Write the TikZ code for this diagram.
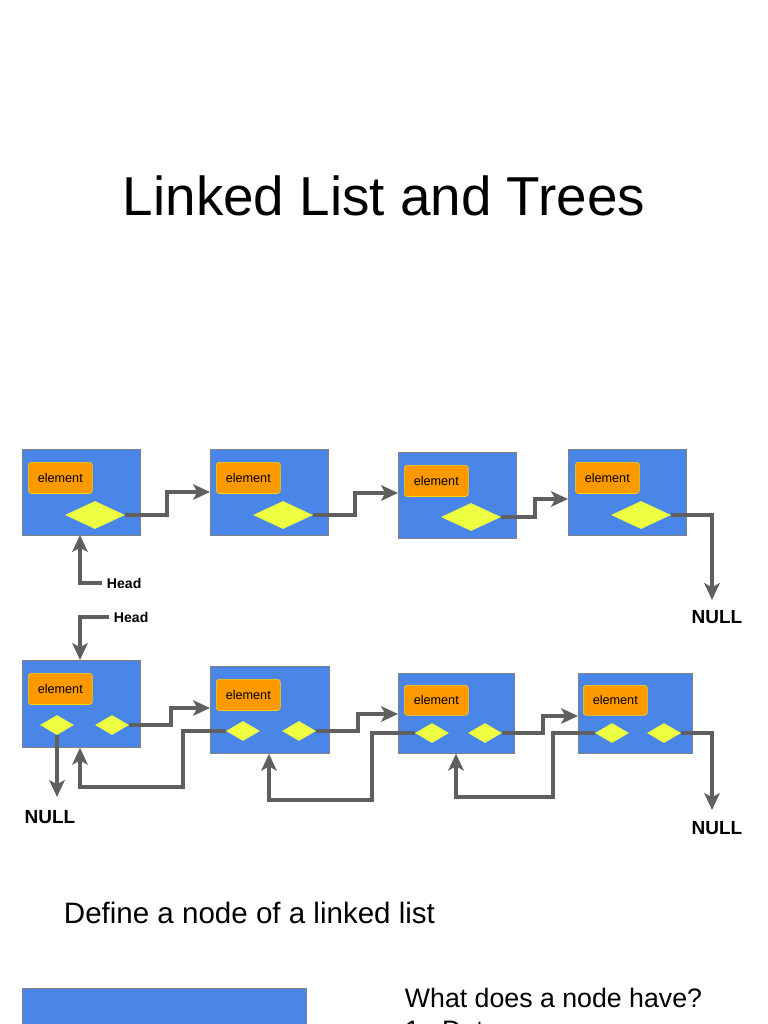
\documentclass[tikz,border=0pt]{standalone}
\usepackage{fontspec}
\setmainfont{Liberation Sans}
\usetikzlibrary{arrows.meta,shapes.geometric,positioning}
\definecolor{boxblue}{RGB}{74,134,232}
\definecolor{elorange}{RGB}{255,153,0}
\definecolor{ptryellow}{RGB}{238,255,65}
\definecolor{linkgray}{RGB}{95,95,95}
\tikzset{
  cell/.style={draw=gray, fill=boxblue, anchor=north west, inner sep=0pt},
  elem/.style={draw=yellow!70!orange, fill=elorange, rounded corners=2pt, anchor=north west, inner sep=0pt,
    minimum width=1.6cm, minimum height=0.78cm, font=\fontsize{9}{10}\selectfont},
  bigptr/.style={diamond, fill=ptryellow, inner sep=0pt, minimum width=1.5cm, minimum height=0.7cm},
  smallptr/.style={diamond, fill=ptryellow, inner sep=0pt, minimum width=0.85cm, minimum height=0.5cm},
  link/.style={draw=linkgray, line width=2.8pt, -{Stealth[length=12pt,width=11pt,inset=3pt]}},
  lbl/.style={font=\bfseries\fontsize{10}{12}\selectfont},
  nulllbl/.style={font=\bfseries\fontsize{13.5}{15}\selectfont}
}
\begin{document}
\begin{tikzpicture}[x=0.025cm,y=-0.025cm]
  \useasboundingbox (0,0) rectangle (768,1024);
  \clip (0,0) rectangle (768,1024);

  % Title
  \node (title) at (384,196) {\fontsize{39}{44}\selectfont Linked List and Trees};

  % Singly linked list
  \node[cell, minimum width=2.95cm, minimum height=2.15cm] (a1) at (22,449) {};
  \node[cell, minimum width=2.95cm, minimum height=2.15cm] (a2) at (210,449) {};
  \node[cell, minimum width=2.95cm, minimum height=2.15cm] (a3) at (398,452) {};
  \node[cell, minimum width=2.95cm, minimum height=2.15cm] (a4) at (568,449) {};
  \node[elem] (ae1) at (28,462) {element};
  \node[elem] (ae2) at (216,462) {element};
  \node[elem] (ae3) at (404,465) {element};
  \node[elem] (ae4) at (575,462) {element};
  \node[bigptr] (ap1) at (95,515) {};
  \node[bigptr] (ap2) at (283,515) {};
  \node[bigptr] (ap3) at (471,517) {};
  \node[bigptr] (ap4) at (641,515) {};
  \coordinate (anull) at (712,600);
  \node[nulllbl] (anulltxt) at (717,617) {NULL};
  \node[lbl, anchor=west] (head1) at (102,583) {Head};

  \draw[link] (ap1.east) -- (167,515) -- (167,492) -- (a2.west |- 0,492);
  \draw[link] (ap2.east) -- (355,515) -- (355,493) -- (a3.west |- 0,493);
  \draw[link] (ap3.east) -- (535,517) -- (535,499) -- (a4.west |- 0,499);
  \draw[link] (ap4.east) -- (712,515) -- (anull);
  \draw[link] (head1.west) -- (80,583) -- (80,535);

  % Doubly linked list
  \node[lbl, anchor=west] (head2) at (109,617) {Head};
  \node[cell, minimum width=2.95cm, minimum height=2.18cm] (b1) at (22,660) {};
  \node[cell, minimum width=2.98cm, minimum height=2.18cm] (b2) at (210,666) {};
  \node[cell, minimum width=2.9cm, minimum height=2cm] (b3) at (398,673) {};
  \node[cell, minimum width=2.85cm, minimum height=2cm] (b4) at (578,673) {};
  \node[elem] (be1) at (28,673) {element};
  \node[elem] (be2) at (216,679) {element};
  \node[elem, minimum height=0.75cm] (be3) at (404,685) {element};
  \node[elem, minimum height=0.75cm] (be4) at (583,685) {element};
  \node[smallptr] (bl1) at (57,725) {};
  \node[smallptr] (br1) at (112,725) {};
  \node[smallptr] (bl2) at (243,731) {};
  \node[smallptr] (br2) at (299,731) {};
  \node[smallptr] (bl3) at (432,733) {};
  \node[smallptr] (br3) at (485,733) {};
  \node[smallptr] (bl4) at (612,733) {};
  \node[smallptr] (br4) at (664,733) {};
  \coordinate (bnullL) at (57,797);
  \coordinate (bnullR) at (712,810);
  \node[nulllbl] (bnulltxtL) at (50,817) {NULL};
  \node[nulllbl] (bnulltxtR) at (717,828) {NULL};

  \draw[link] (head2.west) -- (80,617) -- (b1.north -| 80,0);
  \draw[link] (br1.east) -- (171,725) -- (171,708) -- (b2.west |- 0,708);
  \draw[link] (br2.east) -- (358,731) -- (358,714) -- (b3.west |- 0,714);
  \draw[link] (br3.east) -- (543,733) -- (543,716) -- (b4.west |- 0,716);
  \draw[link] (br4.east) -- (712,733) -- (bnullR);
  \draw[link] (bl1.south) -- (bnullL);
  \draw[link] (bl2.west) -- (183,731) -- (183,787) -- (80,787) -- (b1.south -| 80,0);
  \draw[link] (bl3.west) -- (372,733) -- (372,800) -- (269,800) -- (b2.south -| 269,0);
  \draw[link] (bl4.west) -- (553,733) -- (553,797) -- (456,797) -- (b3.south -| 456,0);

  % Node definition
  \node[anchor=west] (define) at (59,913) {\fontsize{21}{26}\selectfont Define a node of a linked list};
  \node[cell, minimum width=7.1cm, minimum height=2cm] (single) at (22,988) {};
  \node[anchor=west] (question) at (400,998) {\fontsize{19}{22}\selectfont What does a node have?};
  \node[anchor=west] (item) at (400,1030) {\fontsize{19}{22}\selectfont 1.\ \ Data};
\end{tikzpicture}
\end{document}
